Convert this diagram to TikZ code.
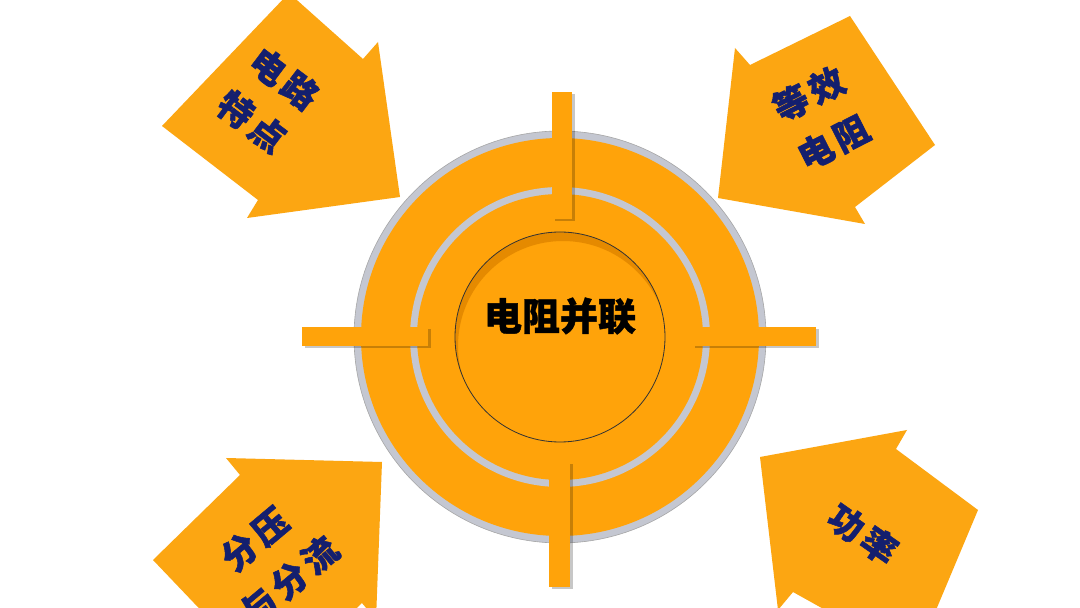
\documentclass[tikz,border=0pt]{standalone}
\usepackage{fontspec}
\newfontfamily\cjk{Noto Sans CJK SC}[BoldFeatures={FakeBold=1.2}]
\newfontfamily\cjkspaced{Noto Sans CJK SC}[LetterSpace=14,BoldFeatures={FakeBold=1.5}]
\usepackage{tkz-euclide}
\usetikzlibrary{calc}
\definecolor{ArrowClr}{rgb}{0.99,0.65,0.07}
\definecolor{DiscClr}{rgb}{1,0.64,0.04}
\definecolor{RingClr}{rgb}{0.77,0.78,0.82}
\definecolor{InsetClr}{rgb}{0.9,0.54,0}
\definecolor{TextClr}{rgb}{0.08,0.12,0.43}

\begin{document}
\begin{tikzpicture}[x=1pt,y=1pt,
  ArrowTxt/.style={text=TextClr,font=\cjkspaced\bfseries\fontsize{35}{54}\selectfont,align=center},
  CenterTxt/.style={text=black,font=\cjk\bfseries\fontsize{38}{44}\selectfont},
  BarShade/.style={fill=black,fill opacity=.22}]

\tkzDefPoints{0/0/P0,1080/608/P1}
\path[use as bounding box,fill=white] (P0) rectangle (P1);

\tkzDefPoints{162/482/A1,289/615/A2,363/549/A3,378/566/A4,400/411/A5,247/390/A6,258/408/A7}
\tkzDefPoints{718/410/B1,735/560/B2,750/543/B3,850/592/B4,935/463/B5,855/401/B6,865/384/B7}
\tkzDefPoints{153/48/C1,240/133/C2,226/150/C3,382/146/C4,376/-12/C5,362/5/C6,275/-80/C7}
\tkzDefPoints{760/151/D1,907/178/D2,896/159/D3,978/98/D4,915/-52/D5,793/16/D6,778/-2/D7}
\tkzDefPoints{268/508/TA,821/490/TB,272/48/TC,863/74/TD}

\tkzFillPolygon[fill=ArrowClr](A1,A2,A3,A4,A5,A6,A7)
\tkzFillPolygon[fill=ArrowClr](B1,B2,B3,B4,B5,B6,B7)
\tkzFillPolygon[fill=ArrowClr](C1,C2,C3,C4,C5,C6,C7)
\tkzFillPolygon[fill=ArrowClr](D1,D2,D3,D4,D5,D6,D7)

\tkzDefPoints{560/271/O,560/292/M}
\fill[RingClr] (O) circle[radius=206];
\draw[gray!70,line width=.6pt] (O) circle[radius=206];
\fill[DiscClr] (O) circle[radius=199];
\fill[RingClr] (O) circle[radius=150];
\fill[DiscClr] (O) circle[radius=143];
\begin{scope}
\clip (O) circle[radius=105];
\fill[InsetClr,even odd rule] (O) circle[radius=110] ($(O)+(3,-9)$) circle[radius=105];
\end{scope}
\draw[black!80,line width=.8pt] (O) circle[radius=105];

\tkzDefPoints{552/389/T1,572/516/T2,549/21/U1,570/146/U2,302/262/L1,428/281/L2,692/262/R1,816/281/R2}
\fill[BarShade] ([shift={(2.5,-2.5)}]T1) rectangle ([shift={(2.5,-2.5)}]T2);
\fill[BarShade] ([shift={(2.5,-2.5)}]U1) rectangle ([shift={(2.5,-2.5)}]U2);
\fill[BarShade] ([shift={(2.5,-2.5)}]L1) rectangle ([shift={(2.5,-2.5)}]L2);
\fill[BarShade] ([shift={(2.5,-2.5)}]R1) rectangle ([shift={(2.5,-2.5)}]R2);
\fill[DiscClr] (T1) rectangle (T2);
\fill[DiscClr] (U1) rectangle (U2);
\fill[DiscClr] (L1) rectangle (L2);
\fill[DiscClr] (R1) rectangle (R2);

\node[CenterTxt] (title) at (M) {电阻并联};
\node[ArrowTxt,rotate=-37] (circuit) at (TA) {电路\\特点};
\node[ArrowTxt,rotate=27] (equiv) at (TB) {等效\\电阻};
\node[ArrowTxt,rotate=40] (divide) at (TC) {分压\\与分流};
\node[ArrowTxt,rotate=-35] (power) at (TD) {功率};

\end{tikzpicture}
\end{document}
